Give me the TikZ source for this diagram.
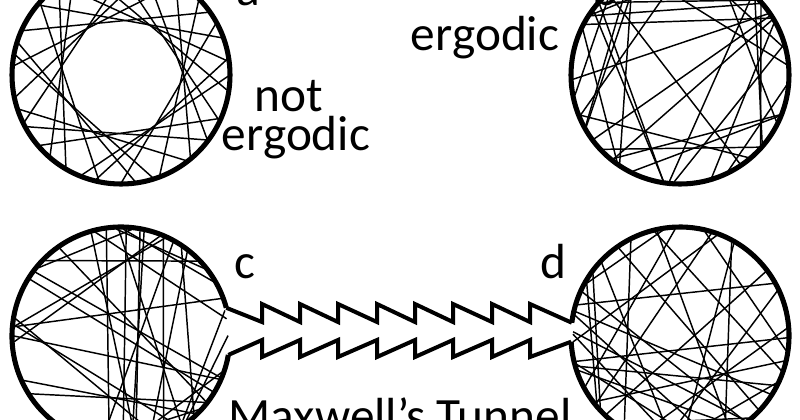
\documentclass[tikz,border=0pt]{standalone}
\usepackage{fontspec}
\setmainfont{Carlito}
\usetikzlibrary{calc}
\begin{document}
\begin{tikzpicture}[x=0.75pt,y=-0.75pt,
  rim/.style={line width=3.8pt},
  chord/.style={line width=1.1pt},
  tun/.style={line width=3pt,line join=miter},
  lbl/.style={font=\fontsize{37}{42}\selectfont,inner sep=0pt,align=center}]
\useasboundingbox (0,0) rectangle (800,419);
% top-left: not ergodic
\coordinate (A) at (121,75);
\pgfmathsetseed{3}
\foreach \k in {0,...,21}{
  \pgfmathsetmacro{\t}{\k*16.4+rnd*8}
  \pgfmathsetmacro{\s}{106+rnd*14}
  \draw[chord] ($(A)+(\t:107)$) -- ($(A)+(\t+\s:107)$);
}
\draw[rim] (A) circle (109);
% top-right
\coordinate (B) at (680,75);
\pgfmathsetseed{7}
\foreach \i in {1,...,30}{
  \pgfmathsetmacro{\a}{rnd*360}\pgfmathsetmacro{\b}{\a+50+rnd*260}
  \draw[chord] ($(B)+(\a:107)$) -- ($(B)+(\b:107)$);
}
\draw[rim] (B) circle (109);
% bottom-left
\coordinate (C) at (121,336);
\pgfmathsetseed{19}
\foreach \i in {1,...,30}{
  \pgfmathsetmacro{\a}{rnd*360}\pgfmathsetmacro{\b}{\a+50+rnd*260}
  \draw[chord] ($(C)+(\a:107)$) -- ($(C)+(\b:107)$);
}
\draw[rim] ($(C)+(10:109)$) arc[start angle=10,end angle=345,radius=109];
% bottom-right
\coordinate (D) at (680,336);
\pgfmathsetseed{31}
\foreach \i in {1,...,30}{
  \pgfmathsetmacro{\a}{rnd*360}\pgfmathsetmacro{\b}{\a+50+rnd*260}
  \draw[chord] ($(D)+(\a:107)$) -- ($(D)+(\b:107)$);
}
\draw[rim] ($(D)+(187:109)$) arc[start angle=187,end angle=537,radius=109];
% tunnel
\coordinate (cu) at ($(C)+(-15:109)$);
\coordinate (cl) at ($(C)+(10:109)$);
\coordinate (du) at ($(D)+(187:109)$);
\coordinate (dl) at ($(D)+(177:109)$);
\draw[tun] (cu) -- (262,322) -- (262,304)
  -- (300,322) -- (300,304) -- (338,322) -- (338,304) -- (377,322) -- (377,304)
  -- (415,322) -- (415,304) -- (453,322) -- (453,304) -- (492,322) -- (492,304)
  -- (530,322) -- (530,304) -- (du);
\draw[tun] (cl) -- (262,340) -- (262,357)
  -- (300,340) -- (300,357) -- (338,340) -- (338,357) -- (377,340) -- (377,357)
  -- (415,340) -- (415,357) -- (453,340) -- (453,357) -- (492,340) -- (492,357)
  -- (530,340) -- (530,357) -- (dl);
% labels
\node[lbl,anchor=base] (la) at (248,5) {a};
\node[lbl,anchor=base] (lb) at (605,5) {b};
\node[lbl,anchor=base] (le1) at (485,50) {ergodic};
\node[lbl,anchor=base] (ln) at (289,111) {not};
\node[lbl,anchor=base] (le2) at (296,150) {ergodic};
\node[lbl,anchor=base] (lc) at (245,278) {c};
\node[lbl,anchor=base] (ld) at (553,278) {d};
\node[lbl,anchor=base] (lm) at (400,432) {Maxwell\symbol{39}s Tunnel};
\end{tikzpicture}
\end{document}
